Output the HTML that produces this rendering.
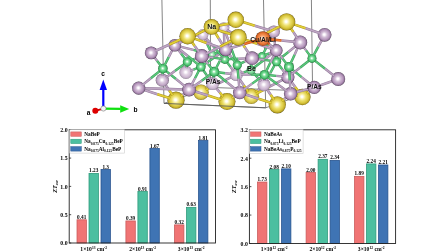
<!DOCTYPE html><html><head><meta charset="utf-8"><style>html,body{margin:0;padding:0;background:#fff;}svg{display:block;filter:blur(0.3px)}</style></head><body>
<svg width="448" height="252" viewBox="0 0 448 252">
<rect width="448" height="252" fill="#fff"/>
<defs>
<radialGradient id="gNa0" cx="0.5" cy="0.5" r="0.5" fx="0.47" fy="0.48"><stop offset="0" stop-color="#ffffff"/><stop offset="0.1" stop-color="#ffffff"/><stop offset="0.26" stop-color="#faf3b6"/><stop offset="0.48" stop-color="#ebde6a"/><stop offset="0.7" stop-color="#dccb44"/><stop offset="0.87" stop-color="#c4ae2c"/><stop offset="0.96" stop-color="#948218"/><stop offset="1" stop-color="#5a4e0c"/></radialGradient>
<radialGradient id="gCu0" cx="0.5" cy="0.5" r="0.5" fx="0.47" fy="0.48"><stop offset="0" stop-color="#ffffff"/><stop offset="0.1" stop-color="#fff0e4"/><stop offset="0.24" stop-color="#fcc098"/><stop offset="0.45" stop-color="#f49458"/><stop offset="0.7" stop-color="#ea7a38"/><stop offset="0.87" stop-color="#d26226"/><stop offset="0.95" stop-color="#a44a16"/><stop offset="1" stop-color="#603010"/></radialGradient>
<radialGradient id="gP35" cx="0.5" cy="0.5" r="0.5" fx="0.47" fy="0.48"><stop offset="0" stop-color="#ffffff"/><stop offset="0.1" stop-color="#ffffff"/><stop offset="0.22" stop-color="#f5eff7"/><stop offset="0.4" stop-color="#e2d5e4"/><stop offset="0.7" stop-color="#d1bcd5"/><stop offset="0.87" stop-color="#bca9c1"/><stop offset="0.95" stop-color="#9f90a3"/><stop offset="1" stop-color="#857a89"/></radialGradient>
<radialGradient id="gP20" cx="0.5" cy="0.5" r="0.5" fx="0.47" fy="0.48"><stop offset="0" stop-color="#ffffff"/><stop offset="0.1" stop-color="#ffffff"/><stop offset="0.22" stop-color="#f3ebf5"/><stop offset="0.4" stop-color="#dbcbde"/><stop offset="0.7" stop-color="#c6adcb"/><stop offset="0.87" stop-color="#ad95b3"/><stop offset="0.95" stop-color="#89768e"/><stop offset="1" stop-color="#695b6e"/></radialGradient>
<radialGradient id="gP0" cx="0.5" cy="0.5" r="0.5" fx="0.47" fy="0.48"><stop offset="0" stop-color="#ffffff"/><stop offset="0.1" stop-color="#ffffff"/><stop offset="0.22" stop-color="#f0e6f2"/><stop offset="0.4" stop-color="#d2bed6"/><stop offset="0.7" stop-color="#b898be"/><stop offset="0.87" stop-color="#987aa0"/><stop offset="0.95" stop-color="#6c5472"/><stop offset="1" stop-color="#44324a"/></radialGradient>
<radialGradient id="gBe20" cx="0.5" cy="0.5" r="0.5" fx="0.47" fy="0.48"><stop offset="0" stop-color="#ffffff"/><stop offset="0.1" stop-color="#f3fff6"/><stop offset="0.24" stop-color="#c0f0cd"/><stop offset="0.45" stop-color="#8de0a6"/><stop offset="0.7" stop-color="#75d090"/><stop offset="0.87" stop-color="#60b97b"/><stop offset="0.95" stop-color="#519968"/><stop offset="1" stop-color="#457855"/></radialGradient>
<radialGradient id="gBe0" cx="0.5" cy="0.5" r="0.5" fx="0.47" fy="0.48"><stop offset="0" stop-color="#ffffff"/><stop offset="0.1" stop-color="#f0fff4"/><stop offset="0.24" stop-color="#b0ecc0"/><stop offset="0.45" stop-color="#70d890"/><stop offset="0.7" stop-color="#52c474"/><stop offset="0.87" stop-color="#38a85a"/><stop offset="0.95" stop-color="#268042"/><stop offset="1" stop-color="#16562a"/></radialGradient>
<radialGradient id="gP30" cx="0.5" cy="0.5" r="0.5" fx="0.47" fy="0.48"><stop offset="0" stop-color="#ffffff"/><stop offset="0.1" stop-color="#ffffff"/><stop offset="0.22" stop-color="#f4eef6"/><stop offset="0.4" stop-color="#e0d2e2"/><stop offset="0.7" stop-color="#cdb7d2"/><stop offset="0.87" stop-color="#b7a2bc"/><stop offset="0.95" stop-color="#98879c"/><stop offset="1" stop-color="#7c7080"/></radialGradient>
<radialGradient id="gNa8" cx="0.5" cy="0.5" r="0.5" fx="0.47" fy="0.48"><stop offset="0" stop-color="#ffffff"/><stop offset="0.1" stop-color="#ffffff"/><stop offset="0.26" stop-color="#faf4bc"/><stop offset="0.48" stop-color="#ede176"/><stop offset="0.7" stop-color="#dfcf53"/><stop offset="0.87" stop-color="#c9b43d"/><stop offset="0.96" stop-color="#9d8c2a"/><stop offset="1" stop-color="#675c1f"/></radialGradient>
</defs>
<line x1="161.9" y1="0" x2="164.0" y2="103.4" stroke="#6e6e6e" stroke-width="0.85"/>
<line x1="210.3" y1="0" x2="210.6" y2="87.4" stroke="#6e6e6e" stroke-width="0.85"/>
<line x1="263.5" y1="0" x2="265.7" y2="107.8" stroke="#6e6e6e" stroke-width="0.85"/>
<line x1="311.4" y1="0" x2="312.6" y2="91.2" stroke="#6e6e6e" stroke-width="0.85"/>
<line x1="164.0" y1="103.4" x2="265.7" y2="107.8" stroke="#6e6e6e" stroke-width="0.85"/>
<line x1="210.6" y1="87.4" x2="312.6" y2="91.2" stroke="#6e6e6e" stroke-width="0.85"/>
<line x1="164.0" y1="103.4" x2="210.6" y2="87.4" stroke="#6e6e6e" stroke-width="0.85"/>
<line x1="265.7" y1="107.8" x2="312.6" y2="91.2" stroke="#6e6e6e" stroke-width="0.85"/>
<circle cx="201.0" cy="92.2" r="7.8" fill="url(#gNa8)"/>
<circle cx="251.3" cy="96.3" r="7.8" fill="url(#gNa8)"/>
<circle cx="302.4" cy="97.0" r="8.2" fill="url(#gNa0)"/>
<circle cx="176.0" cy="100.2" r="8.6" fill="url(#gNa0)"/>
<circle cx="227.0" cy="101.5" r="8.5" fill="url(#gNa0)"/>
<circle cx="277.3" cy="104.8" r="8.6" fill="url(#gNa0)"/>
<line x1="164.0" y1="103.4" x2="265.7" y2="107.8" stroke="#5a5a5a" stroke-width="0.85"/>
<path d="M143.09 89.53L157.35 94.15" stroke="#937a9c" stroke-width="2.6"/>
<path d="M157.35 94.15L170.27 98.34" stroke="#b0981c" stroke-width="2.6"/>
<path d="M143.09 89.53L157.35 94.15" stroke="#bea6c2" stroke-width="1.6"/>
<path d="M157.35 94.15L170.27 98.34" stroke="#e2d038" stroke-width="1.6"/>
<path d="M164.91 84.01L169.15 90.20" stroke="#937a9c" stroke-width="2.6"/>
<path d="M169.15 90.20L172.60 95.23" stroke="#b0981c" stroke-width="2.6"/>
<path d="M164.91 84.01L169.15 90.20" stroke="#bea6c2" stroke-width="1.6"/>
<path d="M169.15 90.20L172.60 95.23" stroke="#e2d038" stroke-width="1.6"/>
<path d="M185.35 92.64L182.55 94.90" stroke="#937a9c" stroke-width="2.6"/>
<path d="M182.55 94.90L180.68 96.41" stroke="#b0981c" stroke-width="2.6"/>
<path d="M185.35 92.64L182.55 94.90" stroke="#bea6c2" stroke-width="1.6"/>
<path d="M182.55 94.90L180.68 96.41" stroke="#e2d038" stroke-width="1.6"/>
<path d="M193.82 90.63L195.05 90.90" stroke="#937a9c" stroke-width="2.6"/>
<path d="M195.05 90.90L196.24 91.16" stroke="#b0981c" stroke-width="2.6"/>
<path d="M193.82 90.63L195.05 90.90" stroke="#bea6c2" stroke-width="1.6"/>
<path d="M195.05 90.90L196.24 91.16" stroke="#e2d038" stroke-width="1.6"/>
<path d="M193.71 91.05L208.05 95.55" stroke="#937a9c" stroke-width="2.6"/>
<path d="M208.05 95.55L221.32 99.72" stroke="#b0981c" stroke-width="2.6"/>
<path d="M193.71 91.05L208.05 95.55" stroke="#bea6c2" stroke-width="1.6"/>
<path d="M208.05 95.55L221.32 99.72" stroke="#e2d038" stroke-width="1.6"/>
<path d="M208.94 86.31L206.80 87.90" stroke="#937a9c" stroke-width="2.6"/>
<path d="M206.80 87.90L205.39 88.95" stroke="#b0981c" stroke-width="2.6"/>
<path d="M208.94 86.31L206.80 87.90" stroke="#bea6c2" stroke-width="1.6"/>
<path d="M206.80 87.90L205.39 88.95" stroke="#e2d038" stroke-width="1.6"/>
<path d="M215.45 87.15L219.80 92.55" stroke="#937a9c" stroke-width="2.6"/>
<path d="M219.80 92.55L223.27 96.86" stroke="#b0981c" stroke-width="2.6"/>
<path d="M215.45 87.15L219.80 92.55" stroke="#bea6c2" stroke-width="1.6"/>
<path d="M219.80 92.55L223.27 96.86" stroke="#e2d038" stroke-width="1.6"/>
<path d="M235.86 95.29L233.35 97.05" stroke="#937a9c" stroke-width="2.6"/>
<path d="M233.35 97.05L231.87 98.09" stroke="#b0981c" stroke-width="2.6"/>
<path d="M235.86 95.29L233.35 97.05" stroke="#bea6c2" stroke-width="1.6"/>
<path d="M233.35 97.05L231.87 98.09" stroke="#e2d038" stroke-width="1.6"/>
<path d="M244.17 94.03L245.50 94.45" stroke="#937a9c" stroke-width="2.6"/>
<path d="M245.50 94.45L246.66 94.82" stroke="#b0981c" stroke-width="2.6"/>
<path d="M244.17 94.03L245.50 94.45" stroke="#bea6c2" stroke-width="1.6"/>
<path d="M245.50 94.45L246.66 94.82" stroke="#e2d038" stroke-width="1.6"/>
<path d="M244.16 94.05L258.50 98.70" stroke="#937a9c" stroke-width="2.6"/>
<path d="M258.50 98.70L271.57 102.94" stroke="#b0981c" stroke-width="2.6"/>
<path d="M244.16 94.05L258.50 98.70" stroke="#bea6c2" stroke-width="1.6"/>
<path d="M258.50 98.70L271.57 102.94" stroke="#e2d038" stroke-width="1.6"/>
<path d="M238.98 78.35L243.85 85.45" stroke="#937a9c" stroke-width="2.6"/>
<path d="M243.85 85.45L248.21 91.80" stroke="#b0981c" stroke-width="2.6"/>
<path d="M238.98 78.35L243.85 85.45" stroke="#bea6c2" stroke-width="1.6"/>
<path d="M243.85 85.45L248.21 91.80" stroke="#e2d038" stroke-width="1.6"/>
<path d="M232.33 76.63L218.70 83.40" stroke="#937a9c" stroke-width="2.6"/>
<path d="M218.70 83.40L205.89 89.77" stroke="#b0981c" stroke-width="2.6"/>
<path d="M232.33 76.63L218.70 83.40" stroke="#bea6c2" stroke-width="1.6"/>
<path d="M218.70 83.40L205.89 89.77" stroke="#e2d038" stroke-width="1.6"/>
<path d="M266.51 88.49L270.65 94.75" stroke="#937a9c" stroke-width="2.6"/>
<path d="M270.65 94.75L273.98 99.78" stroke="#b0981c" stroke-width="2.6"/>
<path d="M266.51 88.49L270.65 94.75" stroke="#bea6c2" stroke-width="1.6"/>
<path d="M270.65 94.75L273.98 99.78" stroke="#e2d038" stroke-width="1.6"/>
<path d="M260.64 87.77L257.65 90.50" stroke="#937a9c" stroke-width="2.6"/>
<path d="M257.65 90.50L255.33 92.62" stroke="#b0981c" stroke-width="2.6"/>
<path d="M260.64 87.77L257.65 90.50" stroke="#bea6c2" stroke-width="1.6"/>
<path d="M257.65 90.50L255.33 92.62" stroke="#e2d038" stroke-width="1.6"/>
<path d="M286.99 96.79L283.95 99.30" stroke="#937a9c" stroke-width="2.6"/>
<path d="M283.95 99.30L281.94 100.96" stroke="#b0981c" stroke-width="2.6"/>
<path d="M286.99 96.79L283.95 99.30" stroke="#bea6c2" stroke-width="1.6"/>
<path d="M283.95 99.30L281.94 100.96" stroke="#e2d038" stroke-width="1.6"/>
<path d="M295.13 95.03L296.50 95.40" stroke="#937a9c" stroke-width="2.6"/>
<path d="M296.50 95.40L297.68 95.72" stroke="#b0981c" stroke-width="2.6"/>
<path d="M295.13 95.03L296.50 95.40" stroke="#bea6c2" stroke-width="1.6"/>
<path d="M296.50 95.40L297.68 95.72" stroke="#e2d038" stroke-width="1.6"/>
<path d="M310.70 90.30L308.35 92.20" stroke="#937a9c" stroke-width="2.6"/>
<path d="M308.35 92.20L306.87 93.40" stroke="#b0981c" stroke-width="2.6"/>
<path d="M310.70 90.30L308.35 92.20" stroke="#bea6c2" stroke-width="1.6"/>
<path d="M308.35 92.20L306.87 93.40" stroke="#e2d038" stroke-width="1.6"/>
<path d="M290.61 80.74L295.15 87.00" stroke="#937a9c" stroke-width="2.6"/>
<path d="M295.15 87.00L299.03 92.35" stroke="#b0981c" stroke-width="2.6"/>
<path d="M290.61 80.74L295.15 87.00" stroke="#bea6c2" stroke-width="1.6"/>
<path d="M295.15 87.00L299.03 92.35" stroke="#e2d038" stroke-width="1.6"/>
<path d="M283.81 79.15L269.60 86.65" stroke="#937a9c" stroke-width="2.6"/>
<path d="M269.60 86.65L256.13 93.75" stroke="#b0981c" stroke-width="2.6"/>
<path d="M283.81 79.15L269.60 86.65" stroke="#bea6c2" stroke-width="1.6"/>
<path d="M269.60 86.65L256.13 93.75" stroke="#e2d038" stroke-width="1.6"/>
<path d="M309.84 88.60L302.45 90.60" stroke="#937a9c" stroke-width="2.6"/>
<path d="M302.45 90.60L295.13 92.58" stroke="#937a9c" stroke-width="2.6"/>
<path d="M309.84 88.60L302.45 90.60" stroke="#bea6c2" stroke-width="1.6"/>
<path d="M302.45 90.60L295.13 92.58" stroke="#bea6c2" stroke-width="1.6"/>
<path d="M318.66 85.87L326.25 83.20" stroke="#937a9c" stroke-width="2.6"/>
<path d="M326.25 83.20L333.58 80.62" stroke="#937a9c" stroke-width="2.6"/>
<path d="M318.66 85.87L326.25 83.20" stroke="#bea6c2" stroke-width="1.6"/>
<path d="M326.25 83.20L333.58 80.62" stroke="#bea6c2" stroke-width="1.6"/>
<path d="M143.32 88.24L163.90 88.85" stroke="#937a9c" stroke-width="2.6"/>
<path d="M163.90 88.85L184.27 89.46" stroke="#937a9c" stroke-width="2.6"/>
<path d="M143.32 88.24L163.90 88.85" stroke="#bea6c2" stroke-width="1.6"/>
<path d="M163.90 88.85L184.27 89.46" stroke="#bea6c2" stroke-width="1.6"/>
<circle cx="186.0" cy="72.4" r="6.6" fill="url(#gP35)"/>
<circle cx="236.4" cy="74.6" r="6.5" fill="url(#gP35)"/>
<circle cx="287.9" cy="77.0" r="6.6" fill="url(#gP0)"/>
<circle cx="338.2" cy="79.0" r="7.0" fill="url(#gP0)"/>
<circle cx="162.3" cy="80.2" r="6.6" fill="url(#gP20)"/>
<circle cx="212.6" cy="83.6" r="6.5" fill="url(#gP35)"/>
<circle cx="264.0" cy="84.7" r="6.5" fill="url(#gP30)"/>
<circle cx="314.3" cy="87.4" r="6.6" fill="url(#gP0)"/>
<circle cx="138.7" cy="88.1" r="6.6" fill="url(#gP0)"/>
<circle cx="189.1" cy="89.6" r="6.9" fill="url(#gP0)"/>
<circle cx="239.7" cy="92.6" r="6.7" fill="url(#gP0)"/>
<circle cx="290.6" cy="93.8" r="6.7" fill="url(#gP0)"/>
<path d="M160.29 70.61L150.80 78.30" stroke="#3a9c5a" stroke-width="2.4"/>
<path d="M150.80 78.30L142.29 85.19" stroke="#937a9c" stroke-width="2.4"/>
<path d="M160.29 70.61L150.80 78.30" stroke="#5cc87c" stroke-width="1.4"/>
<path d="M150.80 78.30L142.29 85.19" stroke="#bea6c2" stroke-width="1.4"/>
<path d="M162.73 71.86L162.60 74.35" stroke="#3a9c5a" stroke-width="2.4"/>
<path d="M162.60 74.35L162.54 75.59" stroke="#937a9c" stroke-width="2.4"/>
<path d="M162.73 71.86L162.60 74.35" stroke="#5cc87c" stroke-width="1.4"/>
<path d="M162.60 74.35L162.54 75.59" stroke="#bea6c2" stroke-width="1.4"/>
<path d="M165.52 70.61L176.00 79.05" stroke="#3a9c5a" stroke-width="2.4"/>
<path d="M176.00 79.05L185.34 86.57" stroke="#937a9c" stroke-width="2.4"/>
<path d="M165.52 70.61L176.00 79.05" stroke="#5cc87c" stroke-width="1.4"/>
<path d="M176.00 79.05L185.34 86.57" stroke="#bea6c2" stroke-width="1.4"/>
<path d="M186.98 64.99L186.70 67.10" stroke="#3a9c5a" stroke-width="2.4"/>
<path d="M186.70 67.10L186.56 68.16" stroke="#937a9c" stroke-width="2.4"/>
<path d="M186.98 64.99L186.70 67.10" stroke="#5cc87c" stroke-width="1.4"/>
<path d="M186.70 67.10L186.56 68.16" stroke="#bea6c2" stroke-width="1.4"/>
<path d="M184.80 63.70L174.85 71.00" stroke="#3a9c5a" stroke-width="2.4"/>
<path d="M174.85 71.00L166.03 77.47" stroke="#937a9c" stroke-width="2.4"/>
<path d="M184.80 63.70L174.85 71.00" stroke="#5cc87c" stroke-width="1.4"/>
<path d="M174.85 71.00L166.03 77.47" stroke="#bea6c2" stroke-width="1.4"/>
<path d="M197.75 67.98L193.45 69.60" stroke="#3a9c5a" stroke-width="2.4"/>
<path d="M193.45 69.60L190.32 70.77" stroke="#937a9c" stroke-width="2.4"/>
<path d="M197.75 67.98L193.45 69.60" stroke="#5cc87c" stroke-width="1.4"/>
<path d="M193.45 69.60L190.32 70.77" stroke="#bea6c2" stroke-width="1.4"/>
<path d="M202.82 69.56L206.75 75.20" stroke="#3a9c5a" stroke-width="2.4"/>
<path d="M206.75 75.20L210.00 79.87" stroke="#937a9c" stroke-width="2.4"/>
<path d="M202.82 69.56L206.75 75.20" stroke="#5cc87c" stroke-width="1.4"/>
<path d="M206.75 75.20L210.00 79.87" stroke="#bea6c2" stroke-width="1.4"/>
<path d="M199.36 69.78L195.00 78.20" stroke="#3a9c5a" stroke-width="2.4"/>
<path d="M195.00 78.20L191.32 85.31" stroke="#937a9c" stroke-width="2.4"/>
<path d="M199.36 69.78L195.00 78.20" stroke="#5cc87c" stroke-width="1.4"/>
<path d="M195.00 78.20L191.32 85.31" stroke="#bea6c2" stroke-width="1.4"/>
<path d="M213.73 75.27L213.40 77.70" stroke="#3a9c5a" stroke-width="2.4"/>
<path d="M213.40 77.70L213.21 79.09" stroke="#937a9c" stroke-width="2.4"/>
<path d="M213.73 75.27L213.40 77.70" stroke="#5cc87c" stroke-width="1.4"/>
<path d="M213.40 77.70L213.21 79.09" stroke="#bea6c2" stroke-width="1.4"/>
<path d="M217.67 72.24L225.30 73.20" stroke="#3a9c5a" stroke-width="2.4"/>
<path d="M225.30 73.20L231.89 74.03" stroke="#937a9c" stroke-width="2.4"/>
<path d="M217.67 72.24L225.30 73.20" stroke="#5cc87c" stroke-width="1.4"/>
<path d="M225.30 73.20L231.89 74.03" stroke="#bea6c2" stroke-width="1.4"/>
<path d="M211.35 73.82L201.65 80.70" stroke="#3a9c5a" stroke-width="2.4"/>
<path d="M201.65 80.70L193.04 86.81" stroke="#937a9c" stroke-width="2.4"/>
<path d="M211.35 73.82L201.65 80.70" stroke="#5cc87c" stroke-width="1.4"/>
<path d="M201.65 80.70L193.04 86.81" stroke="#bea6c2" stroke-width="1.4"/>
<path d="M216.91 74.01L226.95 82.20" stroke="#3a9c5a" stroke-width="2.4"/>
<path d="M226.95 82.20L236.07 89.64" stroke="#937a9c" stroke-width="2.4"/>
<path d="M216.91 74.01L226.95 82.20" stroke="#5cc87c" stroke-width="1.4"/>
<path d="M226.95 82.20L236.07 89.64" stroke="#bea6c2" stroke-width="1.4"/>
<path d="M226.75 61.87L230.60 66.95" stroke="#3a9c5a" stroke-width="2.4"/>
<path d="M230.60 66.95L233.65 70.97" stroke="#937a9c" stroke-width="2.4"/>
<path d="M226.75 61.87L230.60 66.95" stroke="#5cc87c" stroke-width="1.4"/>
<path d="M230.60 66.95L233.65 70.97" stroke="#bea6c2" stroke-width="1.4"/>
<path d="M237.00 68.11L236.85 69.75" stroke="#3a9c5a" stroke-width="2.4"/>
<path d="M236.85 69.75L236.76 70.72" stroke="#937a9c" stroke-width="2.4"/>
<path d="M237.00 68.11L236.85 69.75" stroke="#5cc87c" stroke-width="1.4"/>
<path d="M236.85 69.75L236.76 70.72" stroke="#bea6c2" stroke-width="1.4"/>
<path d="M237.58 68.11L238.50 78.75" stroke="#3a9c5a" stroke-width="2.4"/>
<path d="M238.50 78.75L239.30 87.93" stroke="#937a9c" stroke-width="2.4"/>
<path d="M237.58 68.11L238.50 78.75" stroke="#5cc87c" stroke-width="1.4"/>
<path d="M238.50 78.75L239.30 87.93" stroke="#bea6c2" stroke-width="1.4"/>
<path d="M248.00 70.95L243.70 72.30" stroke="#3a9c5a" stroke-width="2.4"/>
<path d="M243.70 72.30L240.74 73.23" stroke="#937a9c" stroke-width="2.4"/>
<path d="M248.00 70.95L243.70 72.30" stroke="#5cc87c" stroke-width="1.4"/>
<path d="M243.70 72.30L240.74 73.23" stroke="#bea6c2" stroke-width="1.4"/>
<path d="M253.09 72.36L257.50 77.35" stroke="#3a9c5a" stroke-width="2.4"/>
<path d="M257.50 77.35L260.99 81.29" stroke="#937a9c" stroke-width="2.4"/>
<path d="M253.09 72.36L257.50 77.35" stroke="#5cc87c" stroke-width="1.4"/>
<path d="M257.50 77.35L260.99 81.29" stroke="#bea6c2" stroke-width="1.4"/>
<path d="M278.46 64.24L282.20 69.30" stroke="#3a9c5a" stroke-width="2.4"/>
<path d="M282.20 69.30L285.15 73.29" stroke="#937a9c" stroke-width="2.4"/>
<path d="M278.46 64.24L282.20 69.30" stroke="#5cc87c" stroke-width="1.4"/>
<path d="M282.20 69.30L285.15 73.29" stroke="#bea6c2" stroke-width="1.4"/>
<path d="M274.93 64.49L270.25 73.15" stroke="#3a9c5a" stroke-width="2.4"/>
<path d="M270.25 73.15L266.17 80.70" stroke="#937a9c" stroke-width="2.4"/>
<path d="M274.93 64.49L270.25 73.15" stroke="#5cc87c" stroke-width="1.4"/>
<path d="M270.25 73.15L266.17 80.70" stroke="#bea6c2" stroke-width="1.4"/>
<path d="M264.33 78.06L264.25 79.70" stroke="#3a9c5a" stroke-width="2.4"/>
<path d="M264.25 79.70L264.20 80.70" stroke="#937a9c" stroke-width="2.4"/>
<path d="M264.33 78.06L264.25 79.70" stroke="#5cc87c" stroke-width="1.4"/>
<path d="M264.25 79.70L264.20 80.70" stroke="#bea6c2" stroke-width="1.4"/>
<path d="M267.84 75.03L276.20 75.85" stroke="#3a9c5a" stroke-width="2.4"/>
<path d="M276.20 75.85L283.30 76.55" stroke="#937a9c" stroke-width="2.4"/>
<path d="M267.84 75.03L276.20 75.85" stroke="#5cc87c" stroke-width="1.4"/>
<path d="M276.20 75.85L283.30 76.55" stroke="#bea6c2" stroke-width="1.4"/>
<path d="M261.14 74.69L250.45 74.65" stroke="#3a9c5a" stroke-width="2.4"/>
<path d="M250.45 74.65L240.95 74.62" stroke="#937a9c" stroke-width="2.4"/>
<path d="M261.14 74.69L250.45 74.65" stroke="#5cc87c" stroke-width="1.4"/>
<path d="M250.45 74.65L240.95 74.62" stroke="#bea6c2" stroke-width="1.4"/>
<path d="M261.78 76.67L252.10 83.65" stroke="#3a9c5a" stroke-width="2.4"/>
<path d="M252.10 83.65L243.50 89.86" stroke="#937a9c" stroke-width="2.4"/>
<path d="M261.78 76.67L252.10 83.65" stroke="#5cc87c" stroke-width="1.4"/>
<path d="M252.10 83.65L243.50 89.86" stroke="#bea6c2" stroke-width="1.4"/>
<path d="M267.21 76.68L277.55 84.25" stroke="#3a9c5a" stroke-width="2.4"/>
<path d="M277.55 84.25L286.82 91.03" stroke="#937a9c" stroke-width="2.4"/>
<path d="M267.21 76.68L277.55 84.25" stroke="#5cc87c" stroke-width="1.4"/>
<path d="M277.55 84.25L286.82 91.03" stroke="#bea6c2" stroke-width="1.4"/>
<path d="M288.62 70.38L288.45 71.95" stroke="#3a9c5a" stroke-width="2.4"/>
<path d="M288.45 71.95L288.34 72.96" stroke="#937a9c" stroke-width="2.4"/>
<path d="M288.62 70.38L288.45 71.95" stroke="#5cc87c" stroke-width="1.4"/>
<path d="M288.45 71.95L288.34 72.96" stroke="#bea6c2" stroke-width="1.4"/>
<path d="M291.72 69.10L301.65 77.15" stroke="#3a9c5a" stroke-width="2.4"/>
<path d="M301.65 77.15L310.71 84.49" stroke="#937a9c" stroke-width="2.4"/>
<path d="M291.72 69.10L301.65 77.15" stroke="#5cc87c" stroke-width="1.4"/>
<path d="M301.65 77.15L310.71 84.49" stroke="#bea6c2" stroke-width="1.4"/>
<path d="M289.21 70.39L289.80 80.35" stroke="#3a9c5a" stroke-width="2.4"/>
<path d="M289.80 80.35L290.32 89.12" stroke="#937a9c" stroke-width="2.4"/>
<path d="M289.21 70.39L289.80 80.35" stroke="#5cc87c" stroke-width="1.4"/>
<path d="M289.80 80.35L290.32 89.12" stroke="#bea6c2" stroke-width="1.4"/>
<path d="M309.51 60.32L299.95 67.70" stroke="#3a9c5a" stroke-width="2.4"/>
<path d="M299.95 67.70L291.56 74.18" stroke="#937a9c" stroke-width="2.4"/>
<path d="M309.51 60.32L299.95 67.70" stroke="#5cc87c" stroke-width="1.4"/>
<path d="M299.95 67.70L291.56 74.18" stroke="#bea6c2" stroke-width="1.4"/>
<path d="M314.48 60.35L325.10 68.70" stroke="#3a9c5a" stroke-width="2.4"/>
<path d="M325.10 68.70L334.35 75.97" stroke="#937a9c" stroke-width="2.4"/>
<path d="M314.48 60.35L325.10 68.70" stroke="#5cc87c" stroke-width="1.4"/>
<path d="M325.10 68.70L334.35 75.97" stroke="#bea6c2" stroke-width="1.4"/>
<circle cx="212.0" cy="54.6" r="4.3" fill="url(#gBe20)"/>
<circle cx="262.1" cy="56.2" r="4.2" fill="url(#gBe0)"/>
<circle cx="312.0" cy="58.4" r="4.5" fill="url(#gBe0)"/>
<circle cx="224.8" cy="59.3" r="4.6" fill="url(#gBe0)"/>
<circle cx="276.5" cy="61.6" r="4.7" fill="url(#gBe0)"/>
<circle cx="187.4" cy="61.8" r="4.6" fill="url(#gBe0)"/>
<circle cx="237.3" cy="64.9" r="4.6" fill="url(#gBe0)"/>
<circle cx="200.9" cy="66.8" r="4.8" fill="url(#gBe0)"/>
<circle cx="289.0" cy="66.9" r="5.0" fill="url(#gBe0)"/>
<circle cx="162.9" cy="68.5" r="4.8" fill="url(#gBe0)"/>
<circle cx="251.0" cy="70.0" r="4.5" fill="url(#gBe20)"/>
<circle cx="214.2" cy="71.8" r="5.0" fill="url(#gBe0)"/>
<circle cx="264.5" cy="74.7" r="4.8" fill="url(#gBe0)"/>
<path d="M160.88 65.81L157.05 60.70" stroke="#3a9c5a" stroke-width="2.4"/>
<path d="M157.05 60.70L153.89 56.48" stroke="#937a9c" stroke-width="2.4"/>
<path d="M160.88 65.81L157.05 60.70" stroke="#5cc87c" stroke-width="1.4"/>
<path d="M157.05 60.70L153.89 56.48" stroke="#bea6c2" stroke-width="1.4"/>
<path d="M164.43 65.51L168.85 56.90" stroke="#3a9c5a" stroke-width="2.4"/>
<path d="M168.85 56.90L172.79 49.22" stroke="#937a9c" stroke-width="2.4"/>
<path d="M164.43 65.51L168.85 56.90" stroke="#5cc87c" stroke-width="1.4"/>
<path d="M168.85 56.90L172.79 49.22" stroke="#bea6c2" stroke-width="1.4"/>
<path d="M185.45 59.24L181.10 53.55" stroke="#3a9c5a" stroke-width="2.4"/>
<path d="M181.10 53.55L177.48 48.80" stroke="#937a9c" stroke-width="2.4"/>
<path d="M185.45 59.24L181.10 53.55" stroke="#5cc87c" stroke-width="1.4"/>
<path d="M181.10 53.55L177.48 48.80" stroke="#bea6c2" stroke-width="1.4"/>
<path d="M190.39 60.60L194.60 58.90" stroke="#3a9c5a" stroke-width="2.4"/>
<path d="M194.60 58.90L197.32 57.80" stroke="#937a9c" stroke-width="2.4"/>
<path d="M190.39 60.60L194.60 58.90" stroke="#5cc87c" stroke-width="1.4"/>
<path d="M194.60 58.90L197.32 57.80" stroke="#bea6c2" stroke-width="1.4"/>
<path d="M201.18 63.45L201.35 61.40" stroke="#3a9c5a" stroke-width="2.4"/>
<path d="M201.35 61.40L201.44 60.32" stroke="#937a9c" stroke-width="2.4"/>
<path d="M201.18 63.45L201.35 61.40" stroke="#5cc87c" stroke-width="1.4"/>
<path d="M201.35 61.40L201.44 60.32" stroke="#bea6c2" stroke-width="1.4"/>
<path d="M203.66 64.88L213.25 58.20" stroke="#3a9c5a" stroke-width="2.4"/>
<path d="M213.25 58.20L221.81 52.24" stroke="#937a9c" stroke-width="2.4"/>
<path d="M203.66 64.88L213.25 58.20" stroke="#5cc87c" stroke-width="1.4"/>
<path d="M213.25 58.20L221.81 52.24" stroke="#bea6c2" stroke-width="1.4"/>
<path d="M198.31 64.66L187.85 56.05" stroke="#3a9c5a" stroke-width="2.4"/>
<path d="M187.85 56.05L178.20 48.10" stroke="#937a9c" stroke-width="2.4"/>
<path d="M198.31 64.66L187.85 56.05" stroke="#5cc87c" stroke-width="1.4"/>
<path d="M187.85 56.05L178.20 48.10" stroke="#bea6c2" stroke-width="1.4"/>
<path d="M212.04 69.05L208.00 63.90" stroke="#3a9c5a" stroke-width="2.4"/>
<path d="M208.00 63.90L204.78 59.80" stroke="#937a9c" stroke-width="2.4"/>
<path d="M212.04 69.05L208.00 63.90" stroke="#5cc87c" stroke-width="1.4"/>
<path d="M208.00 63.90L204.78 59.80" stroke="#bea6c2" stroke-width="1.4"/>
<path d="M215.80 68.69L219.90 60.70" stroke="#3a9c5a" stroke-width="2.4"/>
<path d="M219.90 60.70L223.49 53.71" stroke="#937a9c" stroke-width="2.4"/>
<path d="M215.80 68.69L219.90 60.70" stroke="#5cc87c" stroke-width="1.4"/>
<path d="M219.90 60.70L223.49 53.71" stroke="#bea6c2" stroke-width="1.4"/>
<path d="M225.06 56.09L225.20 54.45" stroke="#3a9c5a" stroke-width="2.4"/>
<path d="M225.20 54.45L225.28 53.48" stroke="#937a9c" stroke-width="2.4"/>
<path d="M225.06 56.09L225.20 54.45" stroke="#5cc87c" stroke-width="1.4"/>
<path d="M225.20 54.45L225.28 53.48" stroke="#bea6c2" stroke-width="1.4"/>
<path d="M221.61 58.84L213.30 57.65" stroke="#3a9c5a" stroke-width="2.4"/>
<path d="M213.30 57.65L206.58 56.69" stroke="#937a9c" stroke-width="2.4"/>
<path d="M221.61 58.84L213.30 57.65" stroke="#5cc87c" stroke-width="1.4"/>
<path d="M213.30 57.65L206.58 56.69" stroke="#bea6c2" stroke-width="1.4"/>
<path d="M228.02 59.17L238.40 58.75" stroke="#3a9c5a" stroke-width="2.4"/>
<path d="M238.40 58.75L247.17 58.40" stroke="#937a9c" stroke-width="2.4"/>
<path d="M228.02 59.17L238.40 58.75" stroke="#5cc87c" stroke-width="1.4"/>
<path d="M238.40 58.75L247.17 58.40" stroke="#bea6c2" stroke-width="1.4"/>
<path d="M209.02 55.01L206.90 55.30" stroke="#3a9c5a" stroke-width="2.4"/>
<path d="M206.90 55.30L205.88 55.44" stroke="#937a9c" stroke-width="2.4"/>
<path d="M209.02 55.01L206.90 55.30" stroke="#5cc87c" stroke-width="1.4"/>
<path d="M206.90 55.30L205.88 55.44" stroke="#bea6c2" stroke-width="1.4"/>
<path d="M214.83 53.56L218.80 52.10" stroke="#3a9c5a" stroke-width="2.4"/>
<path d="M218.80 52.10L221.26 51.19" stroke="#937a9c" stroke-width="2.4"/>
<path d="M214.83 53.56L218.80 52.10" stroke="#5cc87c" stroke-width="1.4"/>
<path d="M218.80 52.10L221.26 51.19" stroke="#bea6c2" stroke-width="1.4"/>
<path d="M210.74 51.87L207.40 44.60" stroke="#3a9c5a" stroke-width="2.4"/>
<path d="M207.40 44.60L204.44 38.16" stroke="#937a9c" stroke-width="2.4"/>
<path d="M210.74 51.87L207.40 44.60" stroke="#5cc87c" stroke-width="1.4"/>
<path d="M207.40 44.60L204.44 38.16" stroke="#bea6c2" stroke-width="1.4"/>
<path d="M209.08 53.87L193.40 49.95" stroke="#3a9c5a" stroke-width="2.4"/>
<path d="M193.40 49.95L179.08 46.37" stroke="#937a9c" stroke-width="2.4"/>
<path d="M209.08 53.87L193.40 49.95" stroke="#5cc87c" stroke-width="1.4"/>
<path d="M193.40 49.95L179.08 46.37" stroke="#bea6c2" stroke-width="1.4"/>
<path d="M224.70 56.08L224.30 43.55" stroke="#3a9c5a" stroke-width="2.4"/>
<path d="M224.30 43.55L223.92 31.72" stroke="#937a9c" stroke-width="2.4"/>
<path d="M224.70 56.08L224.30 43.55" stroke="#5cc87c" stroke-width="1.4"/>
<path d="M224.30 43.55L223.92 31.72" stroke="#bea6c2" stroke-width="1.4"/>
<path d="M222.66 56.90L213.80 46.95" stroke="#3a9c5a" stroke-width="2.4"/>
<path d="M213.80 46.95L205.41 37.53" stroke="#937a9c" stroke-width="2.4"/>
<path d="M222.66 56.90L213.80 46.95" stroke="#5cc87c" stroke-width="1.4"/>
<path d="M213.80 46.95L205.41 37.53" stroke="#bea6c2" stroke-width="1.4"/>
<path d="M236.20 61.87L230.55 46.35" stroke="#3a9c5a" stroke-width="2.4"/>
<path d="M230.55 46.35L225.14 31.48" stroke="#937a9c" stroke-width="2.4"/>
<path d="M236.20 61.87L230.55 46.35" stroke="#5cc87c" stroke-width="1.4"/>
<path d="M230.55 46.35L225.14 31.48" stroke="#bea6c2" stroke-width="1.4"/>
<path d="M263.36 53.54L267.95 43.90" stroke="#3a9c5a" stroke-width="2.4"/>
<path d="M267.95 43.90L271.94 35.52" stroke="#937a9c" stroke-width="2.4"/>
<path d="M263.36 53.54L267.95 43.90" stroke="#5cc87c" stroke-width="1.4"/>
<path d="M267.95 43.90L271.94 35.52" stroke="#bea6c2" stroke-width="1.4"/>
<path d="M276.21 58.32L275.15 46.60" stroke="#3a9c5a" stroke-width="2.4"/>
<path d="M275.15 46.60L274.19 35.92" stroke="#937a9c" stroke-width="2.4"/>
<path d="M276.21 58.32L275.15 46.60" stroke="#5cc87c" stroke-width="1.4"/>
<path d="M275.15 46.60L274.19 35.92" stroke="#bea6c2" stroke-width="1.4"/>
<path d="M235.34 62.34L231.45 57.25" stroke="#3a9c5a" stroke-width="2.4"/>
<path d="M231.45 57.25L228.41 53.27" stroke="#937a9c" stroke-width="2.4"/>
<path d="M235.34 62.34L231.45 57.25" stroke="#5cc87c" stroke-width="1.4"/>
<path d="M231.45 57.25L228.41 53.27" stroke="#bea6c2" stroke-width="1.4"/>
<path d="M240.23 63.56L244.65 61.55" stroke="#3a9c5a" stroke-width="2.4"/>
<path d="M244.65 61.55L247.60 60.20" stroke="#937a9c" stroke-width="2.4"/>
<path d="M240.23 63.56L244.65 61.55" stroke="#5cc87c" stroke-width="1.4"/>
<path d="M244.65 61.55L247.60 60.20" stroke="#bea6c2" stroke-width="1.4"/>
<path d="M251.27 66.86L251.50 64.10" stroke="#3a9c5a" stroke-width="2.4"/>
<path d="M251.50 64.10L251.60 62.92" stroke="#937a9c" stroke-width="2.4"/>
<path d="M251.27 66.86L251.50 64.10" stroke="#5cc87c" stroke-width="1.4"/>
<path d="M251.50 64.10L251.60 62.92" stroke="#bea6c2" stroke-width="1.4"/>
<path d="M253.49 68.07L263.65 60.20" stroke="#3a9c5a" stroke-width="2.4"/>
<path d="M263.65 60.20L272.81 53.10" stroke="#937a9c" stroke-width="2.4"/>
<path d="M253.49 68.07L263.65 60.20" stroke="#5cc87c" stroke-width="1.4"/>
<path d="M263.65 60.20L272.81 53.10" stroke="#bea6c2" stroke-width="1.4"/>
<path d="M259.22 56.77L257.05 57.20" stroke="#3a9c5a" stroke-width="2.4"/>
<path d="M257.05 57.20L256.04 57.40" stroke="#937a9c" stroke-width="2.4"/>
<path d="M259.22 56.77L257.05 57.20" stroke="#5cc87c" stroke-width="1.4"/>
<path d="M257.05 57.20L256.04 57.40" stroke="#bea6c2" stroke-width="1.4"/>
<path d="M264.82 55.09L269.20 53.30" stroke="#3a9c5a" stroke-width="2.4"/>
<path d="M269.20 53.30L272.22 52.07" stroke="#937a9c" stroke-width="2.4"/>
<path d="M264.82 55.09L269.20 53.30" stroke="#5cc87c" stroke-width="1.4"/>
<path d="M269.20 53.30L272.22 52.07" stroke="#bea6c2" stroke-width="1.4"/>
<path d="M276.44 58.31L276.40 56.00" stroke="#3a9c5a" stroke-width="2.4"/>
<path d="M276.40 56.00L276.38 54.81" stroke="#937a9c" stroke-width="2.4"/>
<path d="M276.44 58.31L276.40 56.00" stroke="#5cc87c" stroke-width="1.4"/>
<path d="M276.40 56.00L276.38 54.81" stroke="#bea6c2" stroke-width="1.4"/>
<path d="M273.24 61.15L264.25 59.90" stroke="#3a9c5a" stroke-width="2.4"/>
<path d="M264.25 59.90L256.78 58.86" stroke="#937a9c" stroke-width="2.4"/>
<path d="M273.24 61.15L264.25 59.90" stroke="#5cc87c" stroke-width="1.4"/>
<path d="M264.25 59.90L256.78 58.86" stroke="#bea6c2" stroke-width="1.4"/>
<path d="M279.06 59.53L288.35 52.00" stroke="#3a9c5a" stroke-width="2.4"/>
<path d="M288.35 52.00L296.39 45.48" stroke="#937a9c" stroke-width="2.4"/>
<path d="M279.06 59.53L288.35 52.00" stroke="#5cc87c" stroke-width="1.4"/>
<path d="M288.35 52.00L296.39 45.48" stroke="#bea6c2" stroke-width="1.4"/>
<path d="M265.97 71.68L270.40 62.55" stroke="#3a9c5a" stroke-width="2.4"/>
<path d="M270.40 62.55L274.37 54.37" stroke="#937a9c" stroke-width="2.4"/>
<path d="M265.97 71.68L270.40 62.55" stroke="#5cc87c" stroke-width="1.4"/>
<path d="M270.40 62.55L274.37 54.37" stroke="#bea6c2" stroke-width="1.4"/>
<path d="M290.46 63.72L294.60 54.65" stroke="#3a9c5a" stroke-width="2.4"/>
<path d="M294.60 54.65L298.16 46.86" stroke="#937a9c" stroke-width="2.4"/>
<path d="M290.46 63.72L294.60 54.65" stroke="#5cc87c" stroke-width="1.4"/>
<path d="M294.60 54.65L298.16 46.86" stroke="#bea6c2" stroke-width="1.4"/>
<path d="M286.87 64.13L282.65 58.65" stroke="#3a9c5a" stroke-width="2.4"/>
<path d="M282.65 58.65L278.99 53.89" stroke="#937a9c" stroke-width="2.4"/>
<path d="M286.87 64.13L282.65 58.65" stroke="#5cc87c" stroke-width="1.4"/>
<path d="M282.65 58.65L278.99 53.89" stroke="#bea6c2" stroke-width="1.4"/>
<path d="M310.13 55.86L306.10 50.40" stroke="#3a9c5a" stroke-width="2.4"/>
<path d="M306.10 50.40L303.11 46.34" stroke="#937a9c" stroke-width="2.4"/>
<path d="M310.13 55.86L306.10 50.40" stroke="#5cc87c" stroke-width="1.4"/>
<path d="M306.10 50.40L303.11 46.34" stroke="#bea6c2" stroke-width="1.4"/>
<path d="M313.48 55.62L318.30 46.60" stroke="#3a9c5a" stroke-width="2.4"/>
<path d="M318.30 46.60L322.33 39.06" stroke="#937a9c" stroke-width="2.4"/>
<path d="M313.48 55.62L318.30 46.60" stroke="#5cc87c" stroke-width="1.4"/>
<path d="M318.30 46.60L322.33 39.06" stroke="#bea6c2" stroke-width="1.4"/>
<circle cx="223.8" cy="27.8" r="5.6" fill="url(#gP35)"/>
<circle cx="273.8" cy="31.6" r="6.2" fill="url(#gP20)"/>
<circle cx="202.8" cy="34.6" r="5.6" fill="url(#gP35)"/>
<circle cx="324.6" cy="34.8" r="6.9" fill="url(#gP0)"/>
<circle cx="300.2" cy="42.4" r="7.0" fill="url(#gP0)"/>
<circle cx="174.8" cy="45.3" r="6.3" fill="url(#gP0)"/>
<circle cx="225.6" cy="49.6" r="6.6" fill="url(#gP0)"/>
<circle cx="276.3" cy="50.4" r="6.3" fill="url(#gP0)"/>
<circle cx="151.2" cy="52.9" r="6.4" fill="url(#gP0)"/>
<circle cx="201.8" cy="56.0" r="6.9" fill="url(#gP0)"/>
<circle cx="252.0" cy="58.2" r="6.9" fill="url(#gP0)"/>
<path d="M182.92 39.53L181.20 40.75" stroke="#b0981c" stroke-width="2.6"/>
<path d="M181.20 40.75L178.39 42.74" stroke="#937a9c" stroke-width="2.6"/>
<path d="M182.92 39.53L181.20 40.75" stroke="#e2d038" stroke-width="1.6"/>
<path d="M181.20 40.75L178.39 42.74" stroke="#bea6c2" stroke-width="1.6"/>
<path d="M155.27 51.03L169.40 44.55" stroke="#937a9c" stroke-width="2.6"/>
<path d="M169.40 44.55L182.38 38.59" stroke="#b0981c" stroke-width="2.6"/>
<path d="M155.27 51.03L169.40 44.55" stroke="#bea6c2" stroke-width="1.6"/>
<path d="M169.40 44.55L182.38 38.59" stroke="#e2d038" stroke-width="1.6"/>
<path d="M190.95 40.86L194.70 46.10" stroke="#b0981c" stroke-width="2.6"/>
<path d="M194.70 46.10L198.99 52.08" stroke="#937a9c" stroke-width="2.6"/>
<path d="M190.95 40.86L194.70 46.10" stroke="#e2d038" stroke-width="1.6"/>
<path d="M194.70 46.10L198.99 52.08" stroke="#bea6c2" stroke-width="1.6"/>
<path d="M193.01 38.11L206.60 42.90" stroke="#b0981c" stroke-width="2.6"/>
<path d="M206.60 42.90L221.24 48.06" stroke="#937a9c" stroke-width="2.6"/>
<path d="M193.01 38.11L206.60 42.90" stroke="#e2d038" stroke-width="1.6"/>
<path d="M206.60 42.90L221.24 48.06" stroke="#bea6c2" stroke-width="1.6"/>
<path d="M193.31 35.60L195.20 35.40" stroke="#b0981c" stroke-width="2.6"/>
<path d="M195.20 35.40L198.90 35.01" stroke="#937a9c" stroke-width="2.6"/>
<path d="M193.31 35.60L195.20 35.40" stroke="#e2d038" stroke-width="1.6"/>
<path d="M195.20 35.40L198.90 35.01" stroke="#bea6c2" stroke-width="1.6"/>
<path d="M208.08 29.98L207.20 30.75" stroke="#b0981c" stroke-width="2.6"/>
<path d="M207.20 30.75L205.75 32.02" stroke="#937a9c" stroke-width="2.6"/>
<path d="M208.08 29.98L207.20 30.75" stroke="#e2d038" stroke-width="1.6"/>
<path d="M207.20 30.75L205.75 32.02" stroke="#bea6c2" stroke-width="1.6"/>
<path d="M216.48 27.26L217.70 27.35" stroke="#b0981c" stroke-width="2.6"/>
<path d="M217.70 27.35L219.89 27.51" stroke="#937a9c" stroke-width="2.6"/>
<path d="M216.48 27.26L217.70 27.35" stroke="#e2d038" stroke-width="1.6"/>
<path d="M217.70 27.35L219.89 27.51" stroke="#bea6c2" stroke-width="1.6"/>
<path d="M214.50 31.61L218.60 38.25" stroke="#b0981c" stroke-width="2.6"/>
<path d="M218.60 38.25L223.17 45.67" stroke="#937a9c" stroke-width="2.6"/>
<path d="M214.50 31.61L218.60 38.25" stroke="#e2d038" stroke-width="1.6"/>
<path d="M218.60 38.25L223.17 45.67" stroke="#bea6c2" stroke-width="1.6"/>
<path d="M231.02 22.98L229.80 23.80" stroke="#b0981c" stroke-width="2.6"/>
<path d="M229.80 23.80L227.06 25.63" stroke="#937a9c" stroke-width="2.6"/>
<path d="M231.02 22.98L229.80 23.80" stroke="#e2d038" stroke-width="1.6"/>
<path d="M229.80 23.80L227.06 25.63" stroke="#bea6c2" stroke-width="1.6"/>
<path d="M241.28 21.50L254.80 25.70" stroke="#b0981c" stroke-width="2.6"/>
<path d="M254.80 25.70L269.66 30.31" stroke="#937a9c" stroke-width="2.6"/>
<path d="M241.28 21.50L254.80 25.70" stroke="#e2d038" stroke-width="1.6"/>
<path d="M254.80 25.70L269.66 30.31" stroke="#bea6c2" stroke-width="1.6"/>
<path d="M234.08 41.39L231.95 43.45" stroke="#b0981c" stroke-width="2.6"/>
<path d="M231.95 43.45L228.92 46.39" stroke="#937a9c" stroke-width="2.6"/>
<path d="M234.08 41.39L231.95 43.45" stroke="#e2d038" stroke-width="1.6"/>
<path d="M231.95 43.45L228.92 46.39" stroke="#bea6c2" stroke-width="1.6"/>
<path d="M241.52 42.22L245.15 47.75" stroke="#b0981c" stroke-width="2.6"/>
<path d="M245.15 47.75L249.35 54.16" stroke="#937a9c" stroke-width="2.6"/>
<path d="M241.52 42.22L245.15 47.75" stroke="#e2d038" stroke-width="1.6"/>
<path d="M245.15 47.75L249.35 54.16" stroke="#bea6c2" stroke-width="1.6"/>
<path d="M233.38 34.08L231.05 32.55" stroke="#b0981c" stroke-width="2.6"/>
<path d="M231.05 32.55L227.08 29.95" stroke="#937a9c" stroke-width="2.6"/>
<path d="M233.38 34.08L231.05 32.55" stroke="#e2d038" stroke-width="1.6"/>
<path d="M231.05 32.55L227.08 29.95" stroke="#bea6c2" stroke-width="1.6"/>
<path d="M233.07 39.98L220.05 46.65" stroke="#b0981c" stroke-width="2.6"/>
<path d="M220.05 46.65L206.10 53.80" stroke="#937a9c" stroke-width="2.6"/>
<path d="M233.07 39.98L220.05 46.65" stroke="#e2d038" stroke-width="1.6"/>
<path d="M220.05 46.65L206.10 53.80" stroke="#bea6c2" stroke-width="1.6"/>
<path d="M243.86 39.22L257.30 43.85" stroke="#b0981c" stroke-width="2.6"/>
<path d="M257.30 43.85L272.13 48.96" stroke="#937a9c" stroke-width="2.6"/>
<path d="M243.86 39.22L257.30 43.85" stroke="#e2d038" stroke-width="1.6"/>
<path d="M257.30 43.85L272.13 48.96" stroke="#bea6c2" stroke-width="1.6"/>
<path d="M206.65 29.37L193.20 36.10" stroke="#b0981c" stroke-width="2.6"/>
<path d="M193.20 36.10L178.74 43.33" stroke="#937a9c" stroke-width="2.6"/>
<path d="M206.65 29.37L193.20 36.10" stroke="#e2d038" stroke-width="1.6"/>
<path d="M193.20 36.10L178.74 43.33" stroke="#bea6c2" stroke-width="1.6"/>
<path d="M281.75 25.58L280.20 26.75" stroke="#b0981c" stroke-width="2.6"/>
<path d="M280.20 26.75L277.26 28.98" stroke="#937a9c" stroke-width="2.6"/>
<path d="M281.75 25.58L280.20 26.75" stroke="#e2d038" stroke-width="1.6"/>
<path d="M280.20 26.75L277.26 28.98" stroke="#bea6c2" stroke-width="1.6"/>
<path d="M292.37 23.86L305.60 28.35" stroke="#b0981c" stroke-width="2.6"/>
<path d="M305.60 28.35L320.03 33.25" stroke="#937a9c" stroke-width="2.6"/>
<path d="M292.37 23.86L305.60 28.35" stroke="#e2d038" stroke-width="1.6"/>
<path d="M305.60 28.35L320.03 33.25" stroke="#bea6c2" stroke-width="1.6"/>
<path d="M289.97 26.97L293.40 32.15" stroke="#b0981c" stroke-width="2.6"/>
<path d="M293.40 32.15L297.49 38.32" stroke="#937a9c" stroke-width="2.6"/>
<path d="M289.97 26.97L293.40 32.15" stroke="#e2d038" stroke-width="1.6"/>
<path d="M293.40 32.15L297.49 38.32" stroke="#bea6c2" stroke-width="1.6"/>
<path d="M268.05 39.13L281.55 40.50" stroke="#b84412" stroke-width="2.6"/>
<path d="M281.55 40.50L295.33 41.90" stroke="#937a9c" stroke-width="2.6"/>
<path d="M268.05 39.13L281.55 40.50" stroke="#f07830" stroke-width="1.6"/>
<path d="M281.55 40.50L295.33 41.90" stroke="#bea6c2" stroke-width="1.6"/>
<path d="M257.93 40.07L244.25 44.10" stroke="#b84412" stroke-width="2.6"/>
<path d="M244.25 44.10L230.03 48.29" stroke="#937a9c" stroke-width="2.6"/>
<path d="M257.93 40.07L244.25 44.10" stroke="#f07830" stroke-width="1.6"/>
<path d="M244.25 44.10L230.03 48.29" stroke="#bea6c2" stroke-width="1.6"/>
<path d="M266.79 42.02L269.60 44.50" stroke="#b84412" stroke-width="2.6"/>
<path d="M269.60 44.50L272.99 47.49" stroke="#937a9c" stroke-width="2.6"/>
<path d="M266.79 42.02L269.60 44.50" stroke="#f07830" stroke-width="1.6"/>
<path d="M269.60 44.50L272.99 47.49" stroke="#bea6c2" stroke-width="1.6"/>
<path d="M281.0 25.8L265.0 34.0" stroke="#b0981c" stroke-width="2.6"/>
<path d="M281.0 25.8L265.0 34.0" stroke="#e2d038" stroke-width="1.6"/>
<path d="M214.0 26.5L229.5 23.4" stroke="#b0981c" stroke-width="2.6"/>
<path d="M214.0 26.5L229.5 23.4" stroke="#e2d038" stroke-width="1.6"/>
<path d="M214.0 29.0L230.5 33.9" stroke="#b0981c" stroke-width="2.6"/>
<path d="M214.0 29.0L230.5 33.9" stroke="#e2d038" stroke-width="1.6"/>
<circle cx="235.8" cy="19.8" r="8.2" fill="url(#gNa0)"/>
<circle cx="286.6" cy="21.9" r="8.7" fill="url(#gNa0)"/>
<circle cx="211.6" cy="26.9" r="7.9" fill="url(#gNa0)"/>
<circle cx="187.6" cy="36.2" r="8.2" fill="url(#gNa0)"/>
<circle cx="238.3" cy="37.3" r="8.4" fill="url(#gNa0)"/>
<circle cx="262.9" cy="38.6" r="7.4" fill="url(#gCu0)"/>
<text x="211.7" y="29.3" text-anchor="middle" font-family="'Liberation Sans', Arial, sans-serif" font-weight="bold" font-size="7.0" fill="#111">Na</text>
<text x="263.0" y="41.5" text-anchor="middle" font-family="'Liberation Sans', Arial, sans-serif" font-weight="bold" font-size="6.8" fill="#111">Cu/Al/Li</text>
<text x="251.4" y="71.4" text-anchor="middle" font-family="'Liberation Sans', Arial, sans-serif" font-weight="bold" font-size="7.0" fill="#111">Be</text>
<text x="213.2" y="84.2" text-anchor="middle" font-family="'Liberation Sans', Arial, sans-serif" font-weight="bold" font-size="6.6" fill="#111">P/As</text>
<text x="314.4" y="89.4" text-anchor="middle" font-family="'Liberation Sans', Arial, sans-serif" font-weight="bold" font-size="6.6" fill="#111">P/As</text>
<line x1="103.3" y1="108.4" x2="103.3" y2="89.5" stroke="#0000ff" stroke-width="2.2"/>
<polygon points="103.3,79.6 99.6,90 107,90" fill="#0000ff"/>
<line x1="103.4" y1="108.6" x2="120.5" y2="108.9" stroke="#10e010" stroke-width="2.3"/>
<polygon points="129.2,109 120.2,105.2 120.2,112.8" fill="#10e010"/>
<line x1="103.4" y1="108.6" x2="96" y2="110.6" stroke="#cc0000" stroke-width="2"/>
<circle cx="95.3" cy="110.8" r="3" fill="#dd0000"/>
<circle cx="103.4" cy="108.5" r="2.6" fill="#f4f4f4" stroke="#777" stroke-width="0.6"/>
<text x="103.2" y="75.5" text-anchor="middle" font-family="'Liberation Sans', Arial, sans-serif" font-weight="bold" font-size="6.6">c</text>
<text x="135.6" y="111.5" text-anchor="middle" font-family="'Liberation Sans', Arial, sans-serif" font-weight="bold" font-size="6.6">b</text>
<text x="88.7" y="115.2" text-anchor="middle" font-family="'Liberation Sans', Arial, sans-serif" font-weight="bold" font-size="6.6">a</text>
<rect x="77.00" y="219.79" width="9.4" height="23.21" fill="#f07474" stroke="#c85858" stroke-width="0.75"/>
<rect x="89.00" y="173.38" width="9.4" height="69.62" fill="#4cbfa0" stroke="#2a9878" stroke-width="0.75"/>
<rect x="101.00" y="169.42" width="9.4" height="73.58" fill="#3f74b4" stroke="#24508c" stroke-width="0.75"/>
<rect x="125.90" y="220.93" width="9.4" height="22.07" fill="#f07474" stroke="#c85858" stroke-width="0.75"/>
<rect x="137.90" y="191.49" width="9.4" height="51.51" fill="#4cbfa0" stroke="#2a9878" stroke-width="0.75"/>
<rect x="149.90" y="148.48" width="9.4" height="94.52" fill="#3f74b4" stroke="#24508c" stroke-width="0.75"/>
<rect x="174.50" y="224.89" width="9.4" height="18.11" fill="#f07474" stroke="#c85858" stroke-width="0.75"/>
<rect x="186.50" y="207.34" width="9.4" height="35.66" fill="#4cbfa0" stroke="#2a9878" stroke-width="0.75"/>
<rect x="198.50" y="140.55" width="9.4" height="102.45" fill="#3f74b4" stroke="#24508c" stroke-width="0.75"/>
<text x="81.70" y="218.89" text-anchor="middle" font-family="'Liberation Serif', 'Times New Roman', serif" font-weight="bold" font-size="5.25">0.41</text>
<text x="93.70" y="172.48" text-anchor="middle" font-family="'Liberation Serif', 'Times New Roman', serif" font-weight="bold" font-size="5.25">1.23</text>
<text x="105.70" y="168.52" text-anchor="middle" font-family="'Liberation Serif', 'Times New Roman', serif" font-weight="bold" font-size="5.25">1.3</text>
<text x="130.60" y="220.03" text-anchor="middle" font-family="'Liberation Serif', 'Times New Roman', serif" font-weight="bold" font-size="5.25">0.39</text>
<text x="142.60" y="190.59" text-anchor="middle" font-family="'Liberation Serif', 'Times New Roman', serif" font-weight="bold" font-size="5.25">0.91</text>
<text x="154.60" y="147.58" text-anchor="middle" font-family="'Liberation Serif', 'Times New Roman', serif" font-weight="bold" font-size="5.25">1.67</text>
<text x="179.20" y="223.99" text-anchor="middle" font-family="'Liberation Serif', 'Times New Roman', serif" font-weight="bold" font-size="5.25">0.32</text>
<text x="191.20" y="206.44" text-anchor="middle" font-family="'Liberation Serif', 'Times New Roman', serif" font-weight="bold" font-size="5.25">0.63</text>
<text x="203.20" y="139.65" text-anchor="middle" font-family="'Liberation Serif', 'Times New Roman', serif" font-weight="bold" font-size="5.25">1.81</text>
<rect x="69.2" y="129.8" width="146.3" height="113.19999999999999" fill="none" stroke="#222" stroke-width="0.9"/>
<line x1="69.2" y1="243.00" x2="71.2" y2="243.00" stroke="#222" stroke-width="0.8"/>
<text x="67.60000000000001" y="245.30" text-anchor="end" font-family="'Liberation Serif', 'Times New Roman', serif" font-weight="bold" font-size="5.8">0.0</text>
<line x1="69.2" y1="214.70" x2="71.2" y2="214.70" stroke="#222" stroke-width="0.8"/>
<text x="67.60000000000001" y="217.00" text-anchor="end" font-family="'Liberation Serif', 'Times New Roman', serif" font-weight="bold" font-size="5.8">0.5</text>
<line x1="69.2" y1="186.40" x2="71.2" y2="186.40" stroke="#222" stroke-width="0.8"/>
<text x="67.60000000000001" y="188.70" text-anchor="end" font-family="'Liberation Serif', 'Times New Roman', serif" font-weight="bold" font-size="5.8">1.0</text>
<line x1="69.2" y1="158.10" x2="71.2" y2="158.10" stroke="#222" stroke-width="0.8"/>
<text x="67.60000000000001" y="160.40" text-anchor="end" font-family="'Liberation Serif', 'Times New Roman', serif" font-weight="bold" font-size="5.8">1.5</text>
<line x1="69.2" y1="129.80" x2="71.2" y2="129.80" stroke="#222" stroke-width="0.8"/>
<text x="67.60000000000001" y="132.10" text-anchor="end" font-family="'Liberation Serif', 'Times New Roman', serif" font-weight="bold" font-size="5.8">2.0</text>
<text x="93.70" y="250.6" text-anchor="middle" font-family="'Liberation Serif', 'Times New Roman', serif" font-weight="bold" font-size="5.6">1×10<tspan dy="-2" font-size="3.6">13</tspan><tspan dy="2"> cm</tspan><tspan dy="-2" font-size="3.6">-2</tspan></text>
<text x="142.60" y="250.6" text-anchor="middle" font-family="'Liberation Serif', 'Times New Roman', serif" font-weight="bold" font-size="5.6">2×10<tspan dy="-2" font-size="3.6">13</tspan><tspan dy="2"> cm</tspan><tspan dy="-2" font-size="3.6">-2</tspan></text>
<text x="191.20" y="250.6" text-anchor="middle" font-family="'Liberation Serif', 'Times New Roman', serif" font-weight="bold" font-size="5.6">3×10<tspan dy="-2" font-size="3.6">13</tspan><tspan dy="2"> cm</tspan><tspan dy="-2" font-size="3.6">-2</tspan></text>
<text transform="translate(56.5,186.40) rotate(-90)" text-anchor="middle" font-family="'Liberation Serif', 'Times New Roman', serif" font-weight="bold" font-style="italic" font-size="6.2">ZT<tspan dy="1.3" font-size="3.8">ave</tspan></text>
<rect x="69.8" y="129.8" width="54.60000000000001" height="23.299999999999983" fill="#fff" stroke="#ccc" stroke-width="0.6"/>
<rect x="70.8" y="131.90" width="10.5" height="4.4" fill="#f07474" stroke="#c85858" stroke-width="0.5"/>
<text x="84.2" y="136.00" font-family="'Liberation Serif', 'Times New Roman', serif" font-weight="bold" font-size="5.3">NaBeP</text>
<rect x="70.8" y="139.20" width="10.5" height="4.4" fill="#4cbfa0" stroke="#2a9878" stroke-width="0.5"/>
<text x="84.2" y="143.30" font-family="'Liberation Serif', 'Times New Roman', serif" font-weight="bold" font-size="5.3">Na<tspan dy="1.5" font-size="3.6">0.875</tspan><tspan dy="-1.5">Cu</tspan><tspan dy="1.5" font-size="3.6">0.125</tspan><tspan dy="-1.5">BeP</tspan></text>
<rect x="70.8" y="146.70" width="10.5" height="4.4" fill="#3f74b4" stroke="#24508c" stroke-width="0.5"/>
<text x="84.2" y="150.80" font-family="'Liberation Serif', 'Times New Roman', serif" font-weight="bold" font-size="5.3">Na<tspan dy="1.5" font-size="3.6">0.875</tspan><tspan dy="-1.5">Al</tspan><tspan dy="1.5" font-size="3.6">0.125</tspan><tspan dy="-1.5">BeP</tspan></text>
<rect x="257.50" y="182.03" width="9.4" height="61.47" fill="#f07474" stroke="#c85858" stroke-width="0.75"/>
<rect x="269.50" y="169.60" width="9.4" height="73.90" fill="#4cbfa0" stroke="#2a9878" stroke-width="0.75"/>
<rect x="281.50" y="168.88" width="9.4" height="74.62" fill="#3f74b4" stroke="#24508c" stroke-width="0.75"/>
<rect x="306.10" y="172.44" width="9.4" height="71.06" fill="#f07474" stroke="#c85858" stroke-width="0.75"/>
<rect x="318.10" y="159.29" width="9.4" height="84.21" fill="#4cbfa0" stroke="#2a9878" stroke-width="0.75"/>
<rect x="330.10" y="160.36" width="9.4" height="83.14" fill="#3f74b4" stroke="#24508c" stroke-width="0.75"/>
<rect x="354.50" y="176.35" width="9.4" height="67.15" fill="#f07474" stroke="#c85858" stroke-width="0.75"/>
<rect x="366.50" y="163.91" width="9.4" height="79.59" fill="#4cbfa0" stroke="#2a9878" stroke-width="0.75"/>
<rect x="378.50" y="164.98" width="9.4" height="78.52" fill="#3f74b4" stroke="#24508c" stroke-width="0.75"/>
<text x="262.20" y="181.13" text-anchor="middle" font-family="'Liberation Serif', 'Times New Roman', serif" font-weight="bold" font-size="5.25">1.73</text>
<text x="274.20" y="168.70" text-anchor="middle" font-family="'Liberation Serif', 'Times New Roman', serif" font-weight="bold" font-size="5.25">2.08</text>
<text x="286.20" y="167.98" text-anchor="middle" font-family="'Liberation Serif', 'Times New Roman', serif" font-weight="bold" font-size="5.25">2.10</text>
<text x="310.80" y="171.54" text-anchor="middle" font-family="'Liberation Serif', 'Times New Roman', serif" font-weight="bold" font-size="5.25">2.00</text>
<text x="322.80" y="158.39" text-anchor="middle" font-family="'Liberation Serif', 'Times New Roman', serif" font-weight="bold" font-size="5.25">2.37</text>
<text x="334.80" y="159.46" text-anchor="middle" font-family="'Liberation Serif', 'Times New Roman', serif" font-weight="bold" font-size="5.25">2.34</text>
<text x="359.20" y="175.45" text-anchor="middle" font-family="'Liberation Serif', 'Times New Roman', serif" font-weight="bold" font-size="5.25">1.89</text>
<text x="371.20" y="163.01" text-anchor="middle" font-family="'Liberation Serif', 'Times New Roman', serif" font-weight="bold" font-size="5.25">2.24</text>
<text x="383.20" y="164.08" text-anchor="middle" font-family="'Liberation Serif', 'Times New Roman', serif" font-weight="bold" font-size="5.25">2.21</text>
<rect x="249.4" y="129.8" width="146.20000000000002" height="113.69999999999999" fill="none" stroke="#222" stroke-width="0.9"/>
<line x1="249.4" y1="243.50" x2="251.4" y2="243.50" stroke="#222" stroke-width="0.8"/>
<text x="247.8" y="245.80" text-anchor="end" font-family="'Liberation Serif', 'Times New Roman', serif" font-weight="bold" font-size="5.8">0.0</text>
<line x1="249.4" y1="215.07" x2="251.4" y2="215.07" stroke="#222" stroke-width="0.8"/>
<text x="247.8" y="217.38" text-anchor="end" font-family="'Liberation Serif', 'Times New Roman', serif" font-weight="bold" font-size="5.8">0.8</text>
<line x1="249.4" y1="186.65" x2="251.4" y2="186.65" stroke="#222" stroke-width="0.8"/>
<text x="247.8" y="188.95" text-anchor="end" font-family="'Liberation Serif', 'Times New Roman', serif" font-weight="bold" font-size="5.8">1.6</text>
<line x1="249.4" y1="158.23" x2="251.4" y2="158.23" stroke="#222" stroke-width="0.8"/>
<text x="247.8" y="160.53" text-anchor="end" font-family="'Liberation Serif', 'Times New Roman', serif" font-weight="bold" font-size="5.8">2.4</text>
<line x1="249.4" y1="129.80" x2="251.4" y2="129.80" stroke="#222" stroke-width="0.8"/>
<text x="247.8" y="132.10" text-anchor="end" font-family="'Liberation Serif', 'Times New Roman', serif" font-weight="bold" font-size="5.8">3.2</text>
<text x="274.20" y="250.6" text-anchor="middle" font-family="'Liberation Serif', 'Times New Roman', serif" font-weight="bold" font-size="5.6">1×10<tspan dy="-2" font-size="3.6">12</tspan><tspan dy="2"> cm</tspan><tspan dy="-2" font-size="3.6">-2</tspan></text>
<text x="322.80" y="250.6" text-anchor="middle" font-family="'Liberation Serif', 'Times New Roman', serif" font-weight="bold" font-size="5.6">2×10<tspan dy="-2" font-size="3.6">12</tspan><tspan dy="2"> cm</tspan><tspan dy="-2" font-size="3.6">-2</tspan></text>
<text x="371.20" y="250.6" text-anchor="middle" font-family="'Liberation Serif', 'Times New Roman', serif" font-weight="bold" font-size="5.6">3×10<tspan dy="-2" font-size="3.6">12</tspan><tspan dy="2"> cm</tspan><tspan dy="-2" font-size="3.6">-2</tspan></text>
<text transform="translate(236.0,186.65) rotate(-90)" text-anchor="middle" font-family="'Liberation Serif', 'Times New Roman', serif" font-weight="bold" font-style="italic" font-size="6.2">ZT<tspan dy="1.3" font-size="3.8">ave</tspan></text>
<rect x="249.5" y="129.8" width="53.60000000000002" height="23.5" fill="#fff" stroke="#ccc" stroke-width="0.6"/>
<rect x="250.5" y="131.90" width="10.5" height="4.4" fill="#f07474" stroke="#c85858" stroke-width="0.5"/>
<text x="263.9" y="136.00" font-family="'Liberation Serif', 'Times New Roman', serif" font-weight="bold" font-size="5.3">NaBeAs</text>
<rect x="250.5" y="139.20" width="10.5" height="4.4" fill="#4cbfa0" stroke="#2a9878" stroke-width="0.5"/>
<text x="263.9" y="143.30" font-family="'Liberation Serif', 'Times New Roman', serif" font-weight="bold" font-size="5.3">Na<tspan dy="1.5" font-size="3.6">0.875</tspan><tspan dy="-1.5">Li</tspan><tspan dy="1.5" font-size="3.6">0.125</tspan><tspan dy="-1.5">BeP</tspan></text>
<rect x="250.5" y="146.70" width="10.5" height="4.4" fill="#3f74b4" stroke="#24508c" stroke-width="0.5"/>
<text x="263.9" y="150.80" font-family="'Liberation Serif', 'Times New Roman', serif" font-weight="bold" font-size="5.3">NaBeAs<tspan dy="1.5" font-size="3.6">0.875</tspan><tspan dy="-1.5">P</tspan><tspan dy="1.5" font-size="3.6">0.125</tspan></text>
</svg></body></html>
